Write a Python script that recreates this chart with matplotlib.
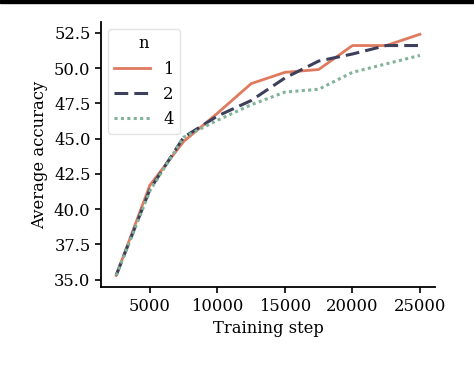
import matplotlib
matplotlib.use("Agg")
import matplotlib.pyplot as plt
from matplotlib.patches import Rectangle

steps = [2500, 5000, 7500, 10000, 12500, 15000, 17500, 20000, 22500, 25000]
acc_n1 = [35.3, 41.7, 44.8, 46.8, 48.9, 49.7, 49.9, 51.6, 51.6, 52.4]
acc_n2 = [35.3, 41.4, 45.1, 46.6, 47.7, 49.3, 50.5, 51.0, 51.6, 51.6]
acc_n4 = [35.3, 41.3, 45.1, 46.3, 47.4, 48.3, 48.5, 49.7, 50.3, 50.9]
labels = ["1", "2", "4"]

plt.rcParams["font.family"] = "DejaVu Serif"
plt.rcParams["font.size"] = 11.8

fig = plt.figure(figsize=(4.74, 3.70), dpi=100)
ax = fig.add_axes([0.213, 0.223, 0.705, 0.717])

ax.plot(steps, acc_n1, color="#e07a5f", lw=2.0, ls="-", label=labels[0])
ax.plot(steps, acc_n2, color="#3d405b", lw=2.2, ls=(0, (4.5, 2)), label=labels[1])
ax.plot(steps, acc_n4, color="#81b29a", lw=2.2, ls=(0, (1, 1.1)), label=labels[2])

ax.set_xticks([5000, 10000, 15000, 20000, 25000])
ax.set_yticks([35.0, 37.5, 40.0, 42.5, 45.0, 47.5, 50.0, 52.5])
ax.set_xlabel("Training step")
ax.set_ylabel("Average accuracy")
ax.spines["top"].set_visible(False)
ax.spines["right"].set_visible(False)
for s in ["left", "bottom"]:
    ax.spines[s].set_linewidth(1.3)
ax.tick_params(length=4, width=1.2)

leg = ax.legend(title="n", loc="upper left", frameon=True, fancybox=True,
                borderaxespad=0.4, handlelength=2.2)
leg.get_frame().set_edgecolor("#dddddd")

# black strip at top of the screenshot
fig.patches.append(Rectangle((0, 1 - 3 / 370), 1, 3 / 370, transform=fig.transFigure,
                             color="black", zorder=10))

fig.savefig("out.png", dpi=100)
